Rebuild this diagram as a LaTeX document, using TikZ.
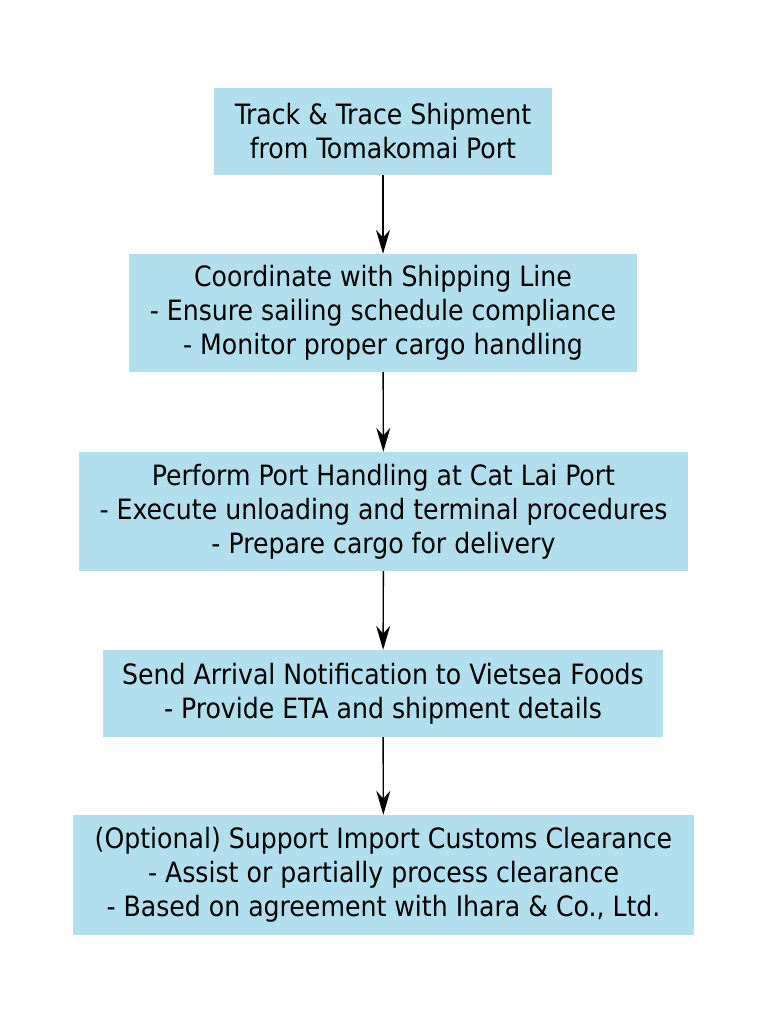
\documentclass[tikz,border=0pt]{standalone}
\usepackage{fontspec}
\setmainfont{DejaVu Sans Condensed}
\usetikzlibrary{arrows.meta}
\definecolor{boxblue}{RGB}{178,223,238}
\tikzset{
  stagebox/.style={fill=boxblue,align=center,inner sep=0pt,font=\fontsize{28}{34}\selectfont},
  flow/.style={-{Stealth[length=24pt,width=14pt]},line width=1.4pt}
}
\begin{document}
\begin{tikzpicture}[x=1pt,y=-1pt]
\useasboundingbox (0,0) rectangle (768,1024);
\node[stagebox,minimum width=338pt,minimum height=87pt] (a) at (383,131.5)
  {Track \& Trace Shipment\\from Tomakomai Port};
\node[stagebox,minimum width=508pt,minimum height=118pt] (b) at (383,313)
  {Coordinate with Shipping Line\\- Ensure sailing schedule compliance\\- Monitor proper cargo handling};
\node[stagebox,minimum width=609pt,minimum height=119pt] (c) at (383.5,511.5)
  {Perform Port Handling at Cat Lai Port\\- Execute unloading and terminal procedures\\- Prepare cargo for delivery};
\node[stagebox,minimum width=560pt,minimum height=87pt] (d) at (383,693.5)
  {Send Arrival Notification to Vietsea Foods\\- Provide ETA and shipment details};
\node[stagebox,minimum width=621pt,minimum height=120pt] (e) at (383.5,875)
  {(Optional) Support Import Customs Clearance\\- Assist or partially process clearance\\- Based on agreement with Ihara \& Co., Ltd.};
\draw[flow] (a) -- (b);
\draw[flow] (b) -- (c);
\draw[flow] (c) -- (d);
\draw[flow] (d) -- (e);
\end{tikzpicture}
\end{document}
